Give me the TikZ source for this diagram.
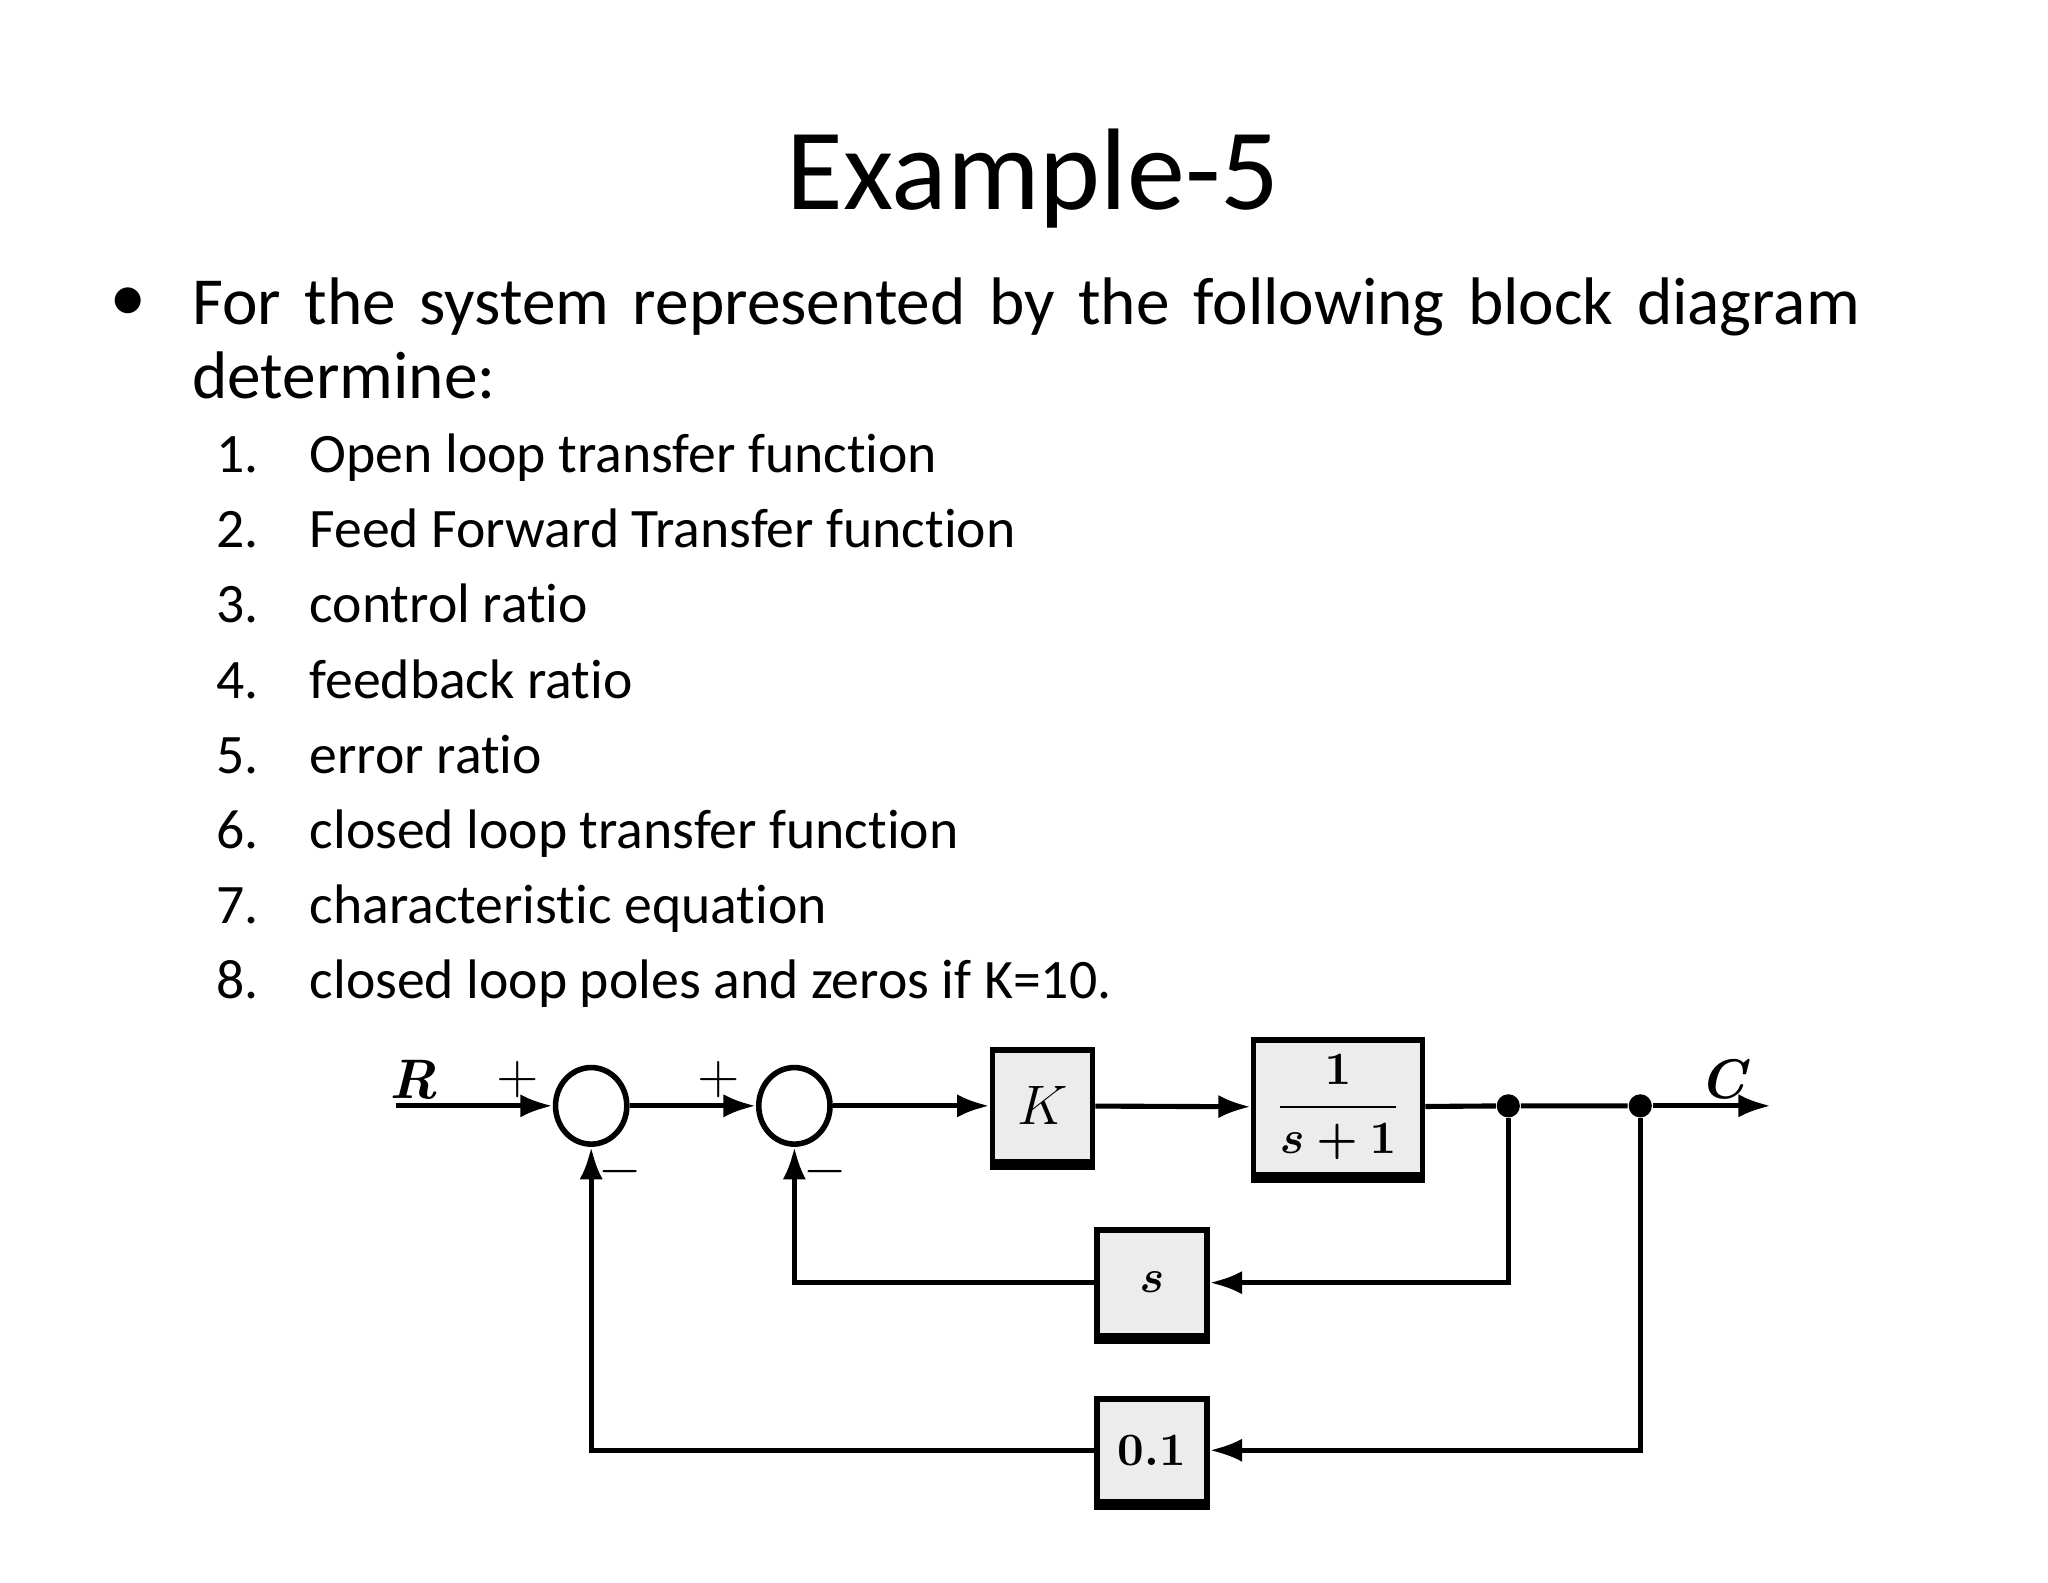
\documentclass[tikz,border=0pt]{standalone}
\usepackage{amsmath}
\usepackage{fontspec}
\setmainfont{Carlito}[Ligatures=NoCommon]
\newfontfamily\diag{Latin Modern Roman}
\usetikzlibrary{arrows.meta,shapes.geometric}
\begin{document}
\begin{tikzpicture}[x=0.01cm,y=-0.01cm,
  blk/.style={draw,line width=1.2pt,fill=gray!15,minimum width=#1,inner sep=0pt,font=\diag\bfseries\itshape},
  sum/.style={draw,line width=1.2pt,ellipse,minimum width=0.54cm,minimum height=0.58cm,inner sep=0pt},
  sig/.style={line width=1.1pt,-{Latex[length=7pt,width=5pt]}},
  ln/.style={line width=1.1pt},
  dot/.style={circle,fill,inner sep=0pt,minimum size=5pt},
  lab/.style={font=\diag\large\bfseries\itshape},
  sgn/.style={font=\diag\large}]
\useasboundingbox (0,0) rectangle (1552,1199);
\node[font=\fontsize{25}{30}\selectfont] (title) at (783,135) {Example-5};
\node (bul) at (97,229) {\fontsize{14}{18}\selectfont$\bullet$};
\node[anchor=north west,inner sep=0pt,font=\fontsize{14.5}{15.8}\selectfont] (intro) at (145,210)
  {\parbox{12.63cm}{For the system represented by the following block diagram\linebreak determine:}};
\foreach \i/\t [count=\n] in {1/Open loop transfer function,2/Feed Forward Transfer function,3/control ratio,4/feedback ratio,5/error ratio,6/closed loop transfer function,7/characteristic equation,8/{closed loop poles and zeros if K=10.}}{
  \node[anchor=base west,inner sep=0pt,font=\fontsize{12}{15}\selectfont] (num\i) at (163,358+57*\n-57) {\i.};
  \node[anchor=base west,inner sep=0pt,font=\fontsize{12}{15}\selectfont] (item\i) at (234,358+57*\n-57) {\t};
}
% diagram
\coordinate (in) at (300,838);
\node[sum] (s1) at (448,838) {};
\node[sum] (s2) at (602,838) {};
\node[blk=0.76cm,minimum height=0.85cm] (K) at (790,838) {\large $K$};
\node[blk=1.28cm,minimum height=1.02cm] (G) at (1014,839) {$\boldsymbol{\dfrac{1}{s+1}}$};
\node[blk=0.83cm,minimum height=0.80cm] (H1) at (873,972) {$\boldsymbol{s}$};
\node[blk=0.83cm,minimum height=0.78cm] (H2) at (873,1099) {\upshape 0.1};
\foreach \b in {K,G,H1,H2}{\draw[line width=2.4pt] (\b.south west)--(\b.south east);}
\node[dot] (j1) at (1143,838) {};
\node[dot] (j2) at (1243,838) {};
\coordinate (out) at (1342,838);
\draw[sig] (in) -- (s1);
\draw[sig] (s1) -- (s2);
\draw[sig] (s2) -- (K);
\draw[sig] (K) -- (G);
\draw[ln] (G) -- (j1) -- (j2);
\draw[sig] (j2) -- (out);
\draw[sig] (j1) |- (H1);
\draw[sig] (H1) -| (s2);
\draw[sig] (j2) |- (H2);
\draw[sig] (H2) -| (s1);
\node[lab] (R) at (313,818) {R};
\node[lab] (C) at (1305,818) {C};
\node[sgn] (p1) at (392,818) {+};
\node[sgn] (p2) at (545,818) {+};
\node[sgn] (m1) at (470,888) {$-$};
\node[sgn] (m2) at (625,888) {$-$};
\end{tikzpicture}
\end{document}
